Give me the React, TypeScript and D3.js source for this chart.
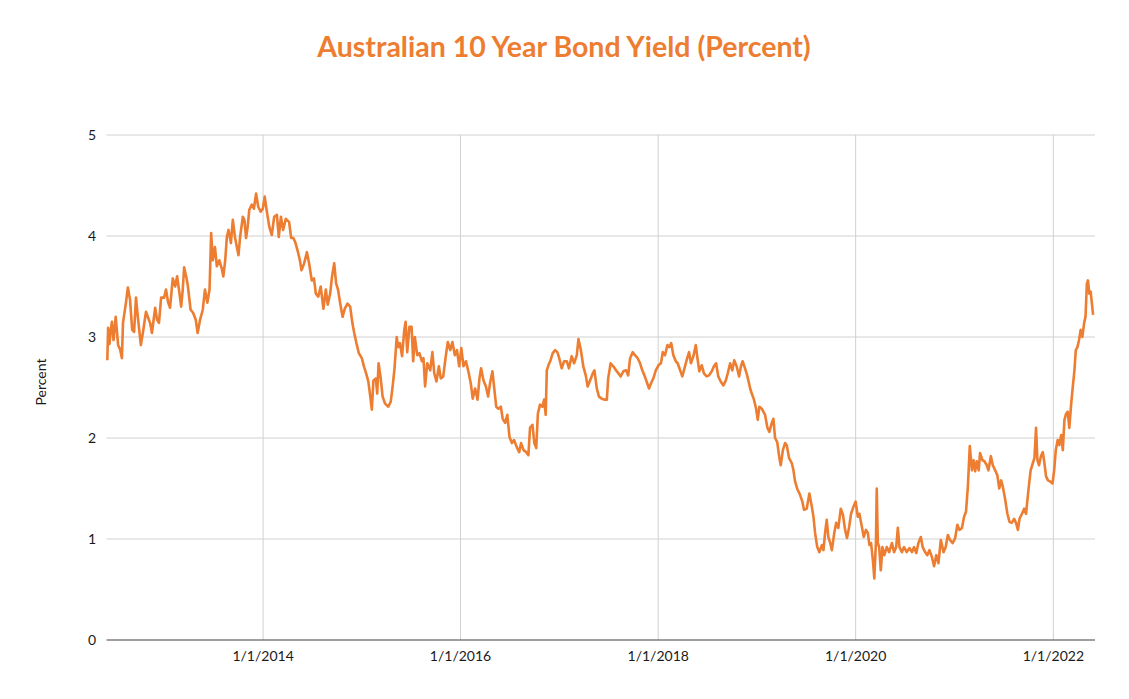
import { useEffect, useRef } from 'react'
import * as d3 from 'd3'

const title = 'Australian 10 Year Bond Yield (Percent)'
const yLabel = 'Percent'
const yTicks = [0, 1, 2, 3, 4, 5]
const xTickDates = ['2014-01-01', '2016-01-01', '2018-01-01', '2020-01-01', '2022-01-01']
const dateRange = ['2012-06-01', '2022-06-04']

// yield readings, [date, percent]
const yields2012: [string, number][] = [
  ['2012-06-04', 2.77], ['2012-06-07', 3.09], ['2012-06-12', 2.93], ['2012-06-16', 3.05], ['2012-06-21', 3.15],
  ['2012-06-27', 2.97], ['2012-07-05', 3.2], ['2012-07-14', 2.92], ['2012-07-21', 2.88], ['2012-07-28', 2.79],
  ['2012-08-01', 3.14], ['2012-08-12', 3.34], ['2012-08-19', 3.49], ['2012-08-27', 3.37], ['2012-09-04', 3.07],
  ['2012-09-11', 3.05], ['2012-09-18', 3.39], ['2012-09-26', 3.17], ['2012-10-06', 2.92], ['2012-10-14', 3.05],
  ['2012-10-25', 3.25], ['2012-11-02', 3.19], ['2012-11-09', 3.14], ['2012-11-16', 3.04], ['2012-11-28', 3.29],
  ['2012-12-05', 3.17], ['2012-12-12', 3.14], ['2012-12-20', 3.39], ['2012-12-31', 3.39],
]
const yields2013: [string, number][] = [
  ['2013-01-07', 3.47], ['2013-01-15', 3.34], ['2013-01-22', 3.29], ['2013-02-01', 3.58], ['2013-02-10', 3.5],
  ['2013-02-17', 3.6], ['2013-02-24', 3.47], ['2013-03-04', 3.3], ['2013-03-10', 3.47], ['2013-03-15', 3.69],
  ['2013-03-25', 3.57], ['2013-03-29', 3.5], ['2013-04-08', 3.27], ['2013-04-17', 3.24], ['2013-04-27', 3.17],
  ['2013-05-04', 3.04], ['2013-05-13', 3.17], ['2013-05-23', 3.27], ['2013-05-31', 3.47], ['2013-06-09', 3.34],
  ['2013-06-17', 3.47], ['2013-06-23', 4.03], ['2013-06-29', 3.76], ['2013-07-07', 3.89], ['2013-07-14', 3.7],
  ['2013-07-23', 3.76], ['2013-08-01', 3.68], ['2013-08-07', 3.6], ['2013-08-14', 3.76], ['2013-08-20', 3.99],
  ['2013-08-26', 4.06], ['2013-09-04', 3.93], ['2013-09-11', 4.16], ['2013-09-19', 3.99], ['2013-09-26', 3.89],
  ['2013-10-02', 3.81], ['2013-10-08', 3.99], ['2013-10-18', 4.19], ['2013-10-24', 4.16], ['2013-10-30', 3.98],
  ['2013-11-05', 4.09], ['2013-11-11', 4.26], ['2013-11-20', 4.31], ['2013-11-28', 4.27], ['2013-12-06', 4.42],
  ['2013-12-14', 4.29], ['2013-12-23', 4.24], ['2013-12-31', 4.27],
]
const yields2014: [string, number][] = [
  ['2014-01-07', 4.39], ['2014-01-15', 4.24], ['2014-01-24', 4.09], ['2014-02-02', 4.01], ['2014-02-11', 4.19],
  ['2014-02-21', 4.21], ['2014-02-28', 3.99], ['2014-03-08', 4.19], ['2014-03-16', 4.06], ['2014-03-26', 4.17],
  ['2014-04-07', 4.14], ['2014-04-15', 3.98], ['2014-04-23', 3.98], ['2014-05-01', 3.93], ['2014-05-11', 3.83],
  ['2014-05-17', 3.76], ['2014-05-23', 3.66], ['2014-06-02', 3.73], ['2014-06-12', 3.84], ['2014-06-20', 3.73],
  ['2014-06-30', 3.56], ['2014-07-08', 3.58], ['2014-07-15', 3.43], ['2014-07-24', 3.4], ['2014-08-02', 3.5],
  ['2014-08-12', 3.28], ['2014-08-21', 3.47], ['2014-08-28', 3.32], ['2014-09-06', 3.43], ['2014-09-13', 3.6],
  ['2014-09-21', 3.73], ['2014-09-28', 3.53], ['2014-10-05', 3.47], ['2014-10-14', 3.32], ['2014-10-22', 3.2],
  ['2014-10-30', 3.28], ['2014-11-09', 3.33], ['2014-11-19', 3.3], ['2014-11-27', 3.14], ['2014-12-04', 3.04],
  ['2014-12-12', 2.94], ['2014-12-21', 2.84],
]
const yields2015: [string, number][] = [
  ['2015-01-01', 2.79], ['2015-01-09', 2.71], ['2015-01-17', 2.64], ['2015-01-25', 2.56], ['2015-01-31', 2.44],
  ['2015-02-07', 2.28], ['2015-02-13', 2.57], ['2015-02-22', 2.59], ['2015-02-27', 2.44], ['2015-03-04', 2.74],
  ['2015-03-11', 2.61], ['2015-03-19', 2.41], ['2015-03-28', 2.34], ['2015-04-09', 2.31], ['2015-04-18', 2.36],
  ['2015-04-25', 2.51], ['2015-05-02', 2.69], ['2015-05-10', 3.0], ['2015-05-15', 2.9], ['2015-05-22', 2.94],
  ['2015-05-30', 2.81], ['2015-06-07', 3.07], ['2015-06-12', 3.15], ['2015-06-18', 2.85], ['2015-06-26', 3.1],
  ['2015-07-04', 3.1], ['2015-07-10', 2.76], ['2015-07-16', 3.0], ['2015-07-25', 2.82], ['2015-08-02', 2.84],
  ['2015-08-11', 2.76], ['2015-08-17', 2.79], ['2015-08-23', 2.51], ['2015-08-31', 2.74], ['2015-09-11', 2.67],
  ['2015-09-19', 2.85], ['2015-09-26', 2.64], ['2015-10-04', 2.56], ['2015-10-13', 2.71], ['2015-10-20', 2.59],
  ['2015-10-29', 2.61], ['2015-11-08', 2.82], ['2015-11-15', 2.95], ['2015-11-24', 2.87], ['2015-12-02', 2.95],
  ['2015-12-11', 2.82], ['2015-12-19', 2.87], ['2015-12-27', 2.71],
]
const yields2016: [string, number][] = [
  ['2016-01-04', 2.89], ['2016-01-12', 2.71], ['2016-01-21', 2.76], ['2016-01-30', 2.66], ['2016-02-08', 2.54],
  ['2016-02-15', 2.39], ['2016-02-24', 2.49], ['2016-03-04', 2.38], ['2016-03-11', 2.59], ['2016-03-17', 2.69],
  ['2016-03-26', 2.57], ['2016-04-04', 2.51], ['2016-04-12', 2.41], ['2016-04-19', 2.54], ['2016-04-28', 2.66],
  ['2016-05-04', 2.51], ['2016-05-12', 2.31], ['2016-05-20', 2.29], ['2016-05-29', 2.31], ['2016-06-05', 2.19],
  ['2016-06-14', 2.15], ['2016-06-22', 2.23], ['2016-06-30', 2.01], ['2016-07-09', 1.95], ['2016-07-17', 1.98],
  ['2016-07-27', 1.91], ['2016-08-05', 1.86], ['2016-08-12', 1.95], ['2016-08-21', 1.88], ['2016-08-31', 1.86],
  ['2016-09-08', 1.83], ['2016-09-14', 2.1], ['2016-09-23', 2.13], ['2016-09-30', 1.95], ['2016-10-07', 1.9],
  ['2016-10-13', 2.24], ['2016-10-21', 2.33], ['2016-10-30', 2.31], ['2016-11-05', 2.38], ['2016-11-11', 2.23],
  ['2016-11-15', 2.67], ['2016-11-21', 2.72], ['2016-11-29', 2.77], ['2016-12-07', 2.84], ['2016-12-16', 2.87],
  ['2016-12-24', 2.85], ['2016-12-31', 2.79],
]
const yields2017: [string, number][] = [
  ['2017-01-09', 2.69], ['2017-01-18', 2.76], ['2017-01-28', 2.76], ['2017-02-05', 2.69], ['2017-02-15', 2.81],
  ['2017-02-24', 2.74], ['2017-03-06', 2.82], ['2017-03-12', 2.98], ['2017-03-21', 2.87], ['2017-03-30', 2.71],
  ['2017-04-08', 2.62], ['2017-04-15', 2.51], ['2017-04-24', 2.57], ['2017-05-04', 2.64], ['2017-05-10', 2.67],
  ['2017-05-19', 2.49], ['2017-05-27', 2.41], ['2017-06-06', 2.39], ['2017-06-15', 2.38], ['2017-06-25', 2.38],
  ['2017-06-30', 2.59], ['2017-07-09', 2.74], ['2017-07-19', 2.71], ['2017-07-29', 2.67], ['2017-08-07', 2.64],
  ['2017-08-15', 2.61], ['2017-08-25', 2.66], ['2017-09-04', 2.67], ['2017-09-12', 2.62], ['2017-09-19', 2.79],
  ['2017-09-29', 2.85], ['2017-10-07', 2.82], ['2017-10-17', 2.79], ['2017-10-26', 2.74], ['2017-11-03', 2.67],
  ['2017-11-11', 2.62], ['2017-11-19', 2.56], ['2017-11-28', 2.49], ['2017-12-05', 2.54], ['2017-12-14', 2.59],
  ['2017-12-23', 2.67],
]
const yields2018: [string, number][] = [
  ['2018-01-02', 2.72], ['2018-01-11', 2.74], ['2018-01-18', 2.85], ['2018-01-26', 2.82], ['2018-02-04', 2.92],
  ['2018-02-11', 2.9], ['2018-02-18', 2.94], ['2018-02-26', 2.82], ['2018-03-07', 2.76], ['2018-03-14', 2.74],
  ['2018-03-23', 2.67], ['2018-03-31', 2.61], ['2018-04-08', 2.69], ['2018-04-16', 2.77], ['2018-04-25', 2.85],
  ['2018-05-02', 2.74], ['2018-05-11', 2.81], ['2018-05-20', 2.92], ['2018-05-26', 2.79], ['2018-06-02', 2.66],
  ['2018-06-11', 2.72], ['2018-06-19', 2.64], ['2018-06-29', 2.61], ['2018-07-08', 2.62], ['2018-07-18', 2.66],
  ['2018-07-26', 2.71], ['2018-08-03', 2.74], ['2018-08-11', 2.61], ['2018-08-20', 2.56], ['2018-08-30', 2.52],
  ['2018-09-08', 2.57], ['2018-09-15', 2.64], ['2018-09-24', 2.74], ['2018-10-02', 2.67], ['2018-10-09', 2.77],
  ['2018-10-18', 2.71], ['2018-10-27', 2.61], ['2018-11-03', 2.71], ['2018-11-09', 2.76], ['2018-11-18', 2.69],
  ['2018-11-26', 2.62], ['2018-12-07', 2.49], ['2018-12-13', 2.44], ['2018-12-21', 2.38], ['2018-12-29', 2.29],
]
const yields2019: [string, number][] = [
  ['2019-01-04', 2.18], ['2019-01-10', 2.31], ['2019-01-19', 2.29], ['2019-01-31', 2.23], ['2019-02-09', 2.1],
  ['2019-02-16', 2.06], ['2019-02-25', 2.15], ['2019-03-03', 2.19], ['2019-03-09', 2.0], ['2019-03-17', 1.96],
  ['2019-03-24', 1.82], ['2019-03-30', 1.73], ['2019-04-07', 1.88], ['2019-04-15', 1.95], ['2019-04-21', 1.93],
  ['2019-04-30', 1.8], ['2019-05-10', 1.75], ['2019-05-16', 1.68], ['2019-05-22', 1.57], ['2019-05-31', 1.49],
  ['2019-06-09', 1.44], ['2019-06-18', 1.37], ['2019-06-24', 1.29], ['2019-07-04', 1.3], ['2019-07-14', 1.45],
  ['2019-07-23', 1.32], ['2019-07-29', 1.22], ['2019-08-04', 1.06], ['2019-08-12', 0.92], ['2019-08-20', 0.87],
  ['2019-08-29', 0.94], ['2019-09-04', 0.89], ['2019-09-10', 1.06], ['2019-09-16', 1.19], ['2019-09-22', 1.02],
  ['2019-09-29', 0.96], ['2019-10-05', 0.89], ['2019-10-14', 1.06], ['2019-10-21', 1.16], ['2019-10-29', 1.11],
  ['2019-11-07', 1.3], ['2019-11-15', 1.24], ['2019-11-23', 1.09], ['2019-11-30', 1.01], ['2019-12-08', 1.12],
  ['2019-12-15', 1.25], ['2019-12-24', 1.32],
]
const yields2020: [string, number][] = [
  ['2020-01-01', 1.37], ['2020-01-09', 1.22], ['2020-01-15', 1.25], ['2020-01-24', 1.12], ['2020-01-31', 1.02],
  ['2020-02-08', 1.09], ['2020-02-15', 1.06], ['2020-02-21', 0.94], ['2020-02-27', 0.96], ['2020-03-05', 0.78],
  ['2020-03-10', 0.61], ['2020-03-16', 0.97], ['2020-03-19', 1.5], ['2020-03-23', 0.96], ['2020-03-28', 0.92],
  ['2020-04-03', 0.69], ['2020-04-09', 0.92], ['2020-04-16', 0.84], ['2020-04-25', 0.92], ['2020-05-04', 0.87],
  ['2020-05-14', 0.96], ['2020-05-22', 0.87], ['2020-05-30', 0.92], ['2020-06-05', 1.11], ['2020-06-11', 0.92],
  ['2020-06-20', 0.87], ['2020-06-28', 0.92], ['2020-07-08', 0.87], ['2020-07-18', 0.91], ['2020-07-27', 0.87],
  ['2020-08-04', 0.92], ['2020-08-12', 0.86], ['2020-08-20', 0.96], ['2020-08-29', 1.02], ['2020-09-05', 0.92],
  ['2020-09-14', 0.87], ['2020-09-22', 0.84], ['2020-09-30', 0.89], ['2020-10-09', 0.82], ['2020-10-17', 0.73],
  ['2020-10-25', 0.84], ['2020-11-02', 0.76], ['2020-11-11', 0.99], ['2020-11-21', 0.87], ['2020-11-29', 0.92],
  ['2020-12-07', 1.04], ['2020-12-15', 0.99], ['2020-12-25', 0.96],
]
const yields2021: [string, number][] = [
  ['2021-01-03', 1.01], ['2021-01-11', 1.14], ['2021-01-19', 1.09], ['2021-01-28', 1.11], ['2021-02-05', 1.22],
  ['2021-02-12', 1.27], ['2021-02-19', 1.52], ['2021-02-23', 1.75], ['2021-02-26', 1.92], ['2021-03-06', 1.68],
  ['2021-03-12', 1.78], ['2021-03-18', 1.67], ['2021-03-24', 1.77], ['2021-03-31', 1.68], ['2021-04-05', 1.85],
  ['2021-04-14', 1.78], ['2021-04-21', 1.77], ['2021-04-30', 1.73], ['2021-05-06', 1.68], ['2021-05-15', 1.82],
  ['2021-05-22', 1.73], ['2021-05-31', 1.68], ['2021-06-08', 1.63], ['2021-06-15', 1.5], ['2021-06-22', 1.58],
  ['2021-06-28', 1.52], ['2021-07-07', 1.39], ['2021-07-15', 1.25], ['2021-07-23', 1.17], ['2021-07-31', 1.16],
  ['2021-08-09', 1.2], ['2021-08-16', 1.16], ['2021-08-23', 1.09], ['2021-08-29', 1.2], ['2021-09-07', 1.25],
  ['2021-09-15', 1.3], ['2021-09-22', 1.25], ['2021-10-01', 1.49], ['2021-10-09', 1.68], ['2021-10-17', 1.75],
  ['2021-10-23', 1.8], ['2021-10-29', 2.1], ['2021-11-03', 1.78], ['2021-11-09', 1.73], ['2021-11-16', 1.82],
  ['2021-11-23', 1.86], ['2021-11-29', 1.75], ['2021-12-05', 1.62], ['2021-12-12', 1.58], ['2021-12-20', 1.57],
  ['2021-12-29', 1.55],
]
const yields2022: [string, number][] = [
  ['2022-01-04', 1.68], ['2022-01-10', 1.88], ['2022-01-17', 1.98], ['2022-01-23', 1.93], ['2022-01-30', 2.03],
  ['2022-02-05', 1.88], ['2022-02-11', 2.18], ['2022-02-17', 2.24], ['2022-02-23', 2.26], ['2022-03-01', 2.1],
  ['2022-03-08', 2.34], ['2022-03-14', 2.51], ['2022-03-20', 2.67], ['2022-03-25', 2.87], ['2022-03-31', 2.9],
  ['2022-04-06', 2.97], ['2022-04-12', 3.07], ['2022-04-18', 3.0], ['2022-04-25', 3.14], ['2022-04-30', 3.2],
  ['2022-05-05', 3.53], ['2022-05-09', 3.56], ['2022-05-14', 3.43], ['2022-05-19', 3.45], ['2022-05-24', 3.32],
  ['2022-05-28', 3.22],
]

const parseDate = d3.timeParse('%Y-%m-%d')
const formatTick = d3.timeFormat('%-m/%-d/%Y')

function App() {
  const svgRef = useRef<SVGSVGElement>(null)

  useEffect(() => {
    const w = 1129
    const h = 699
    const left = 106.5
    const right = 1095
    const top = 135
    const bottom = 640
    const orange = '#ED7D31'
    const font = 'Lato, "Open Sans", sans-serif'

    const data = [
      ...yields2012, ...yields2013, ...yields2014, ...yields2015, ...yields2016, ...yields2017,
      ...yields2018, ...yields2019, ...yields2020, ...yields2021, ...yields2022,
    ].map(([d, v]) => ({ date: parseDate(d) as Date, value: v }))

    const svg = d3.select(svgRef.current)
    svg.selectAll('*').remove()
    svg.attr('width', w).attr('height', h)

    svg.append('rect').attr('width', w).attr('height', h).attr('fill', '#fff')

    const xScale = d3.scaleTime()
      .domain(dateRange.map((d) => parseDate(d) as Date))
      .range([left, right])
    const yScale = d3.scaleLinear()
      .domain([0, 5])
      .range([bottom, top])

    // horizontal grid + y labels
    const yAxis = svg.append('g')
    yAxis.selectAll('line')
      .data(yTicks.filter((t) => t > 0))
      .join('line')
        .attr('x1', left)
        .attr('x2', right)
        .attr('y1', (d) => yScale(d))
        .attr('y2', (d) => yScale(d))
        .attr('stroke', '#d0d0d0')
        .attr('stroke-width', 1)
    yAxis.selectAll('text')
      .data(yTicks)
      .join('text')
        .attr('x', 96)
        .attr('y', (d) => yScale(d))
        .attr('dy', '0.36em')
        .attr('text-anchor', 'end')
        .attr('font-family', font)
        .attr('font-size', 14)
        .attr('fill', '#1a1a1a')
        .text((d) => d)

    // vertical grid at each tick date + x labels
    const xTicks = xTickDates.map((d) => parseDate(d) as Date)
    const xAxis = svg.append('g')
    xAxis.selectAll('line')
      .data(xTicks)
      .join('line')
        .attr('x1', (d) => xScale(d))
        .attr('x2', (d) => xScale(d))
        .attr('y1', top)
        .attr('y2', bottom)
        .attr('stroke', '#d0d0d0')
        .attr('stroke-width', 1)
    xAxis.selectAll('text')
      .data(xTicks)
      .join('text')
        .attr('x', (d) => xScale(d))
        .attr('y', 656)
        .attr('dy', '0.36em')
        .attr('text-anchor', 'middle')
        .attr('font-family', font)
        .attr('font-size', 14)
        .attr('fill', '#1a1a1a')
        .text((d) => formatTick(d))

    // baseline
    svg.append('line')
      .attr('x1', left)
      .attr('x2', right)
      .attr('y1', yScale(0))
      .attr('y2', yScale(0))
      .attr('stroke', '#404040')
      .attr('stroke-width', 1.2)

    const line = d3.line<{ date: Date; value: number }>()
      .x((d) => xScale(d.date))
      .y((d) => yScale(d.value))

    svg.append('path')
      .datum(data)
      .attr('d', line)
      .attr('fill', 'none')
      .attr('stroke', orange)
      .attr('stroke-width', 2.6)
      .attr('stroke-linejoin', 'round')

    svg.append('text')
      .attr('x', 564)
      .attr('y', 57)
      .attr('text-anchor', 'middle')
      .attr('font-family', font)
      .attr('font-weight', 'bold')
      .attr('font-size', 28.5)
      .attr('fill', orange)
      .text(title)

    svg.append('text')
      .attr('transform', 'translate(46, 382) rotate(-90)')
      .attr('text-anchor', 'middle')
      .attr('font-family', font)
      .attr('font-size', 14)
      .attr('fill', '#1a1a1a')
      .text(yLabel)
  }, [])

  return (
    <svg ref={svgRef} style={{ position: 'absolute', left: 0, top: 0, display: 'block' }}></svg>
  )
}

export default App
